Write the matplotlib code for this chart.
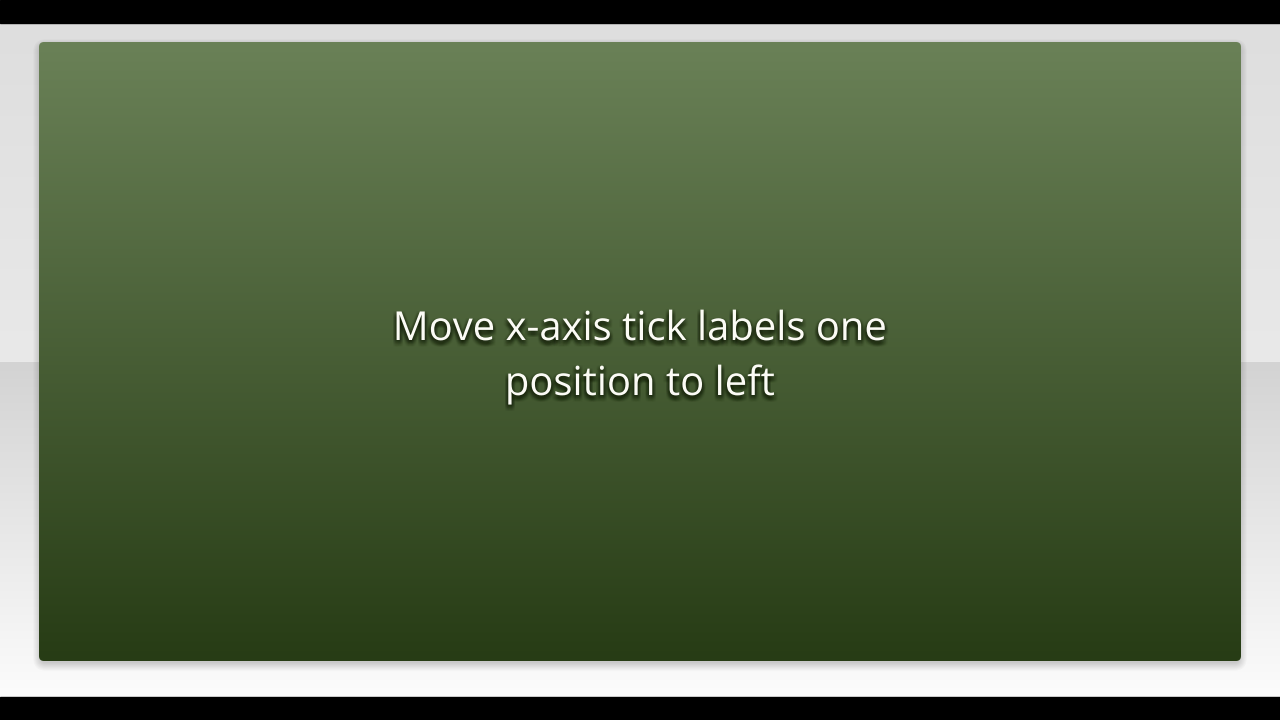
import numpy as np
import matplotlib

matplotlib.use('Agg')
import matplotlib.pyplot as plt
import matplotlib.patheffects as pe
from matplotlib.patches import FancyBboxPatch, Rectangle

# title card text, one entry per line
title_lines = ['Move x-axis tick labels one', 'position to left']

# gradient stops (top colour, bottom colour) as RGB 0-255
card_colors = [(106, 129, 87), (39, 60, 21)]
bg_upper_colors = [(222, 222, 222), (233, 233, 233)]
bg_lower_colors = [(211, 211, 211), (252, 252, 252)]

W, H = 1280, 720
BAR_TOP, BAR_BOTTOM = 23, 697
SPLIT = 362
CARD = (39, 42, 1241, 661)  # x0, y0, x1, y1


def vgrad(c0, c1, n=256):
    t = np.linspace(0, 1, n)[:, None]
    c0 = np.array(c0) / 255.0
    c1 = np.array(c1) / 255.0
    g = c0 + (c1 - c0) * t
    return g[:, None, :]


fig = plt.figure(figsize=(12.8, 7.2), dpi=100)
ax = fig.add_axes([0, 0, 1, 1])
ax.set_xlim(0, W)
ax.set_ylim(H, 0)
ax.axis('off')

# page background
ax.imshow(vgrad(*bg_upper_colors), extent=(0, W, SPLIT, BAR_TOP),
          aspect='auto', zorder=0, interpolation='bilinear')
ax.imshow(vgrad(*bg_lower_colors), extent=(0, W, BAR_BOTTOM, SPLIT),
          aspect='auto', zorder=0, interpolation='bilinear')

# black letterbox bars
ax.add_patch(Rectangle((0, 0), W, BAR_TOP, color='black', zorder=1))
ax.add_patch(Rectangle((0, BAR_BOTTOM), W, H - BAR_BOTTOM, color='black', zorder=1))

x0, y0, x1, y1 = CARD

# soft shadow, mostly under the card
for i in range(8):
    pad = i * 1.1
    ax.add_patch(FancyBboxPatch(
        (x0 + 2, y0 + 5), x1 - x0 - 4, y1 - y0 - 3,
        boxstyle=f'round,pad={pad},rounding_size={5 + pad}',
        facecolor='black', edgecolor='none', alpha=0.025, zorder=2))

# card with vertical green gradient
card = FancyBboxPatch((x0, y0), x1 - x0, y1 - y0,
                      boxstyle='round,pad=0,rounding_size=5',
                      facecolor='none', edgecolor='none', zorder=3)
ax.add_patch(card)
im = ax.imshow(vgrad(*card_colors), extent=(x0, x1, y1, y0),
               aspect='auto', zorder=3, interpolation='bilinear')
im.set_clip_path(card)

# blurred drop shadow built from a ring of faint offset copies (offsets in points)
shadow = []
for dx in (-2.4, -1.6, -0.8, 0, 0.8, 1.6, 2.4):
    for dy in (0.3, -0.5, -1.3, -2.1, -2.9, -3.7, -4.5):
        w = 0.045 * (1 - 0.25 * abs(dx) / 2.4) * (1 - 0.3 * abs(dy + 2.1) / 2.4)
        shadow.append(pe.SimplePatchShadow(offset=(dx, dy), shadow_rgbFace='#0c1405',
                                           alpha=w, rho=1))
shadow.append(pe.Normal())

baselines = [340, 395]
for line, yb in zip(title_lines, baselines):
    ax.text(640, yb, line, color='#fbfbf5', zorder=5,
            family=['Open Sans', 'DejaVu Sans'], fontsize=28.8,
            ha='center', va='baseline', path_effects=shadow)

fig.savefig('out.png', dpi=100)
